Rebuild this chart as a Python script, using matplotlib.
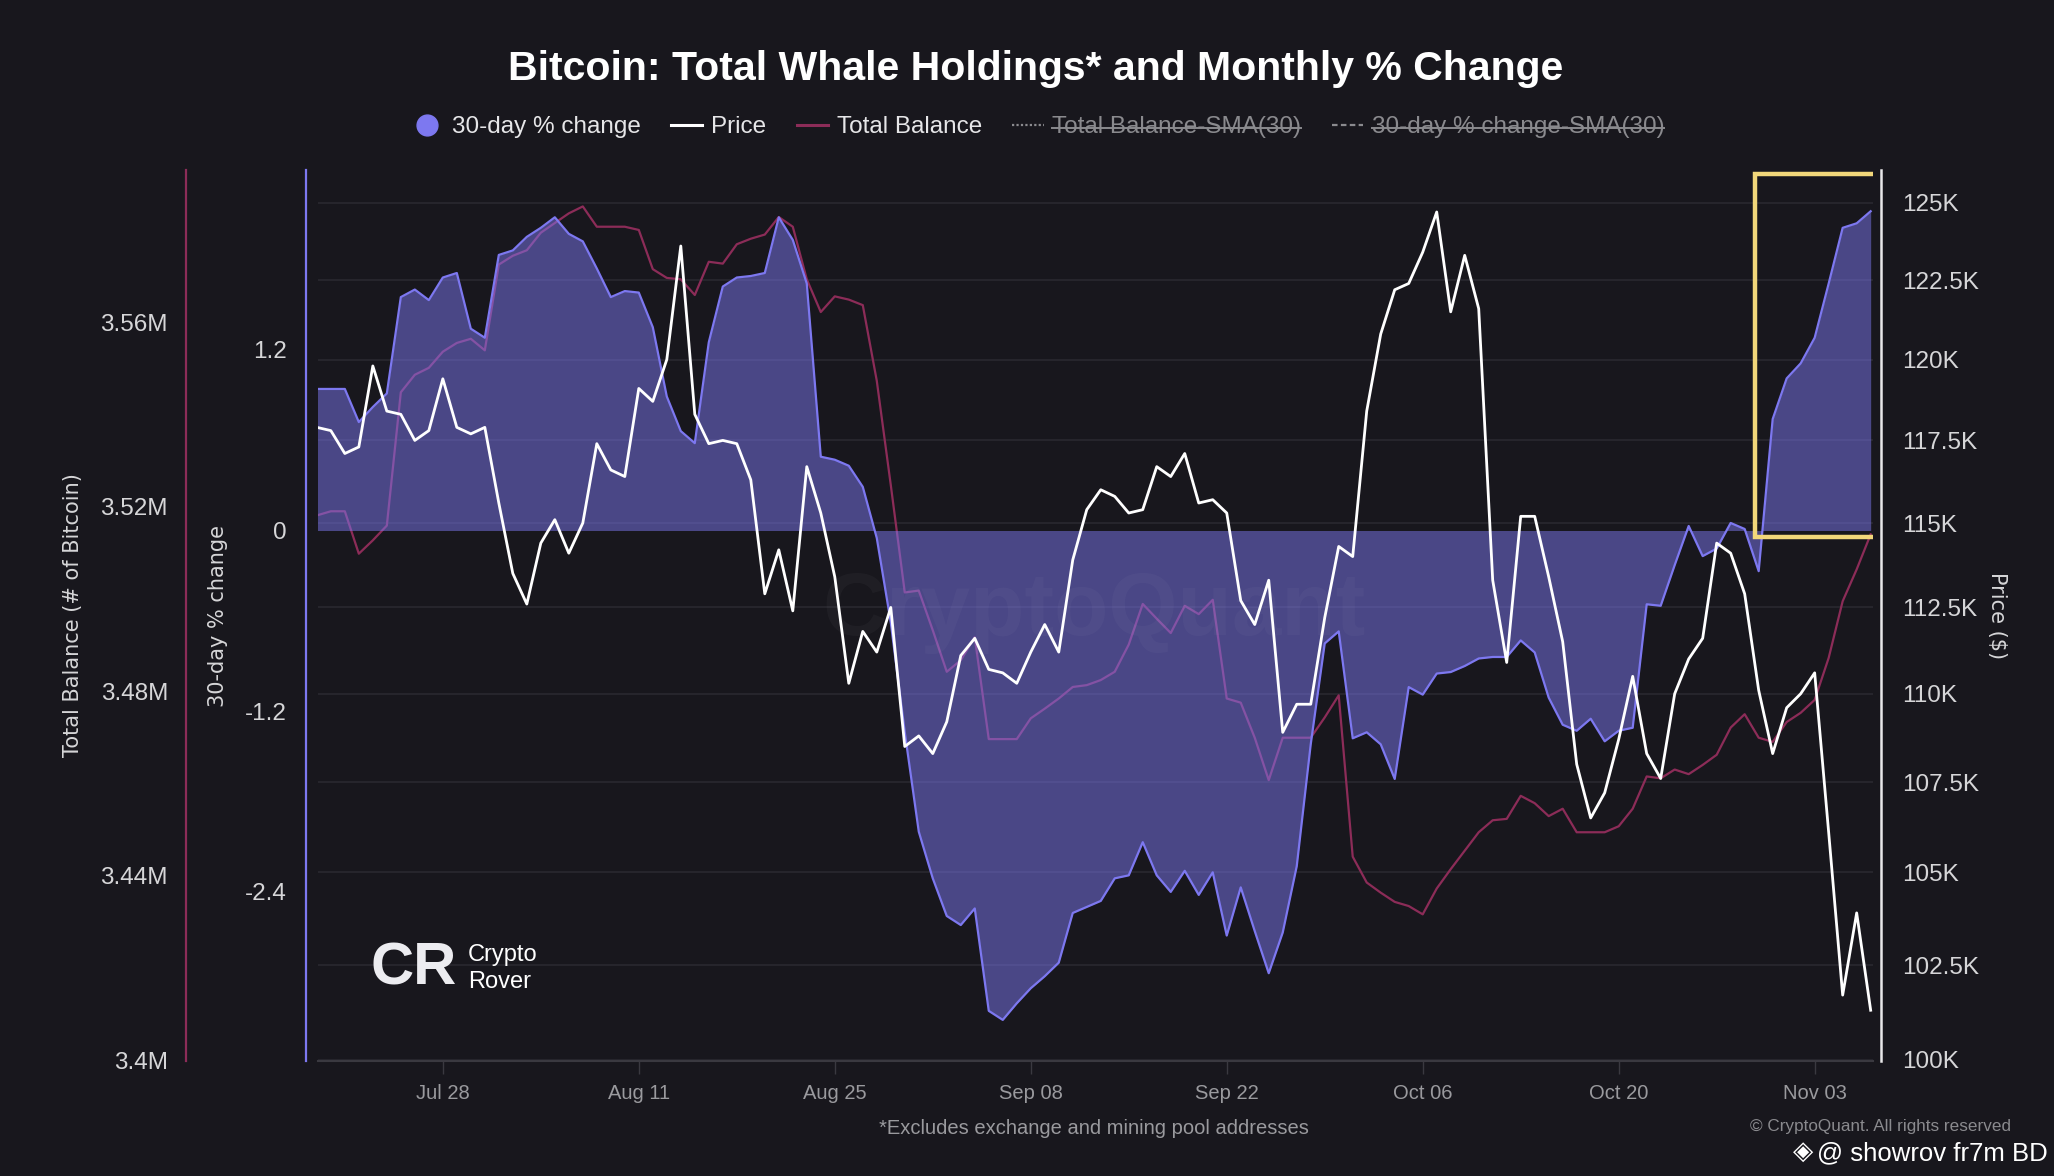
import pandas as pd
import matplotlib
matplotlib.use("Agg")
import matplotlib.pyplot as plt
import matplotlib.dates as mdates
import matplotlib.ticker as mticker
from matplotlib.lines import Line2D
from matplotlib.patches import Rectangle

plt.rcParams['font.family'] = ['Liberation Sans Narrow', 'Liberation Sans', 'DejaVu Sans']

# ======== data ========
dates = pd.date_range('2025-07-19', periods=112, freq='D')

pct_change = [0.94, 0.94, 0.94, 0.72, 0.82, 0.91, 1.55, 1.60, 1.53, 1.68,
              1.71, 1.34, 1.28, 1.83, 1.86, 1.95, 2.01, 2.08, 1.97, 1.92,
              1.74, 1.55, 1.59, 1.58, 1.35, 0.89, 0.66, 0.58, 1.25, 1.62,
              1.68, 1.69, 1.71, 2.08, 1.93, 1.64, 0.49, 0.47, 0.43, 0.29,
              -0.05, -0.61, -1.34, -2.00, -2.31, -2.56, -2.62, -2.51, -3.19, -3.25,
              -3.14, -3.04, -2.96, -2.87, -2.54, -2.50, -2.46, -2.31, -2.29, -2.07,
              -2.29, -2.40, -2.26, -2.42, -2.27, -2.69, -2.37, -2.66, -2.94, -2.67,
              -2.23, -1.42, -0.75, -0.67, -1.38, -1.34, -1.42, -1.65, -1.04, -1.09,
              -0.95, -0.94, -0.90, -0.85, -0.84, -0.84, -0.73, -0.81, -1.11, -1.29,
              -1.33, -1.25, -1.40, -1.33, -1.31, -0.49, -0.50, -0.23, 0.03, -0.17,
              -0.12, 0.05, 0.01, -0.27, 0.74, 1.01, 1.11, 1.28, 1.64, 2.01,
              2.04, 2.12]

price_k = [117.9, 117.8, 117.1, 117.3, 119.8, 118.4, 118.3, 117.5, 117.8, 119.4,
           117.9, 117.7, 117.9, 115.6, 113.5, 112.6, 114.4, 115.1, 114.1, 115.0,
           117.4, 116.6, 116.4, 119.1, 118.7, 120.0, 123.6, 118.3, 117.4, 117.5,
           117.4, 116.3, 112.9, 114.2, 112.4, 116.7, 115.3, 113.4, 110.3, 111.8,
           111.2, 112.5, 108.5, 108.8, 108.3, 109.2, 111.1, 111.6, 110.7, 110.6,
           110.3, 111.2, 112.0, 111.2, 113.9, 115.4, 116.0, 115.8, 115.3, 115.4,
           116.7, 116.4, 117.1, 115.6, 115.7, 115.3, 112.7, 112.0, 113.3, 108.9,
           109.7, 109.7, 112.2, 114.3, 114.0, 118.4, 120.8, 122.2, 122.4, 123.4,
           124.7, 121.5, 123.3, 121.6, 113.3, 110.9, 115.2, 115.2, 113.4, 111.5,
           108.0, 106.5, 107.2, 108.7, 110.5, 108.3, 107.6, 110.0, 111.0, 111.6,
           114.4, 114.1, 112.9, 110.1, 108.3, 109.6, 110.0, 110.6, 106.1, 101.7,
           103.9, 101.3]

balance_m = [3.5181, 3.5190, 3.5190, 3.5098, 3.5127, 3.5159, 3.5448, 3.5486, 3.5501, 3.5536,
             3.5555, 3.5564, 3.5539, 3.5725, 3.5744, 3.5756, 3.5794, 3.5815, 3.5836, 3.5851,
             3.5807, 3.5807, 3.5807, 3.5800, 3.5715, 3.5696, 3.5693, 3.5659, 3.5731, 3.5727,
             3.5769, 3.5781, 3.5790, 3.5828, 3.5807, 3.5693, 3.5622, 3.5656, 3.5649, 3.5637,
             3.5473, 3.5247, 3.5014, 3.5018, 3.4932, 3.4842, 3.4867, 3.4917, 3.4696, 3.4696,
             3.4696, 3.4741, 3.4762, 3.4784, 3.4809, 3.4813, 3.4824, 3.4842, 3.4901, 3.4989,
             3.4957, 3.4926, 3.4985, 3.4967, 3.4998, 3.4784, 3.4775, 3.4699, 3.4607, 3.4699,
             3.4699, 3.4699, 3.4743, 3.4791, 3.4441, 3.4385, 3.4363, 3.4343, 3.4334, 3.4316,
             3.4372, 3.4414, 3.4454, 3.4494, 3.4520, 3.4523, 3.4573, 3.4557, 3.4529, 3.4545,
             3.4494, 3.4494, 3.4494, 3.4507, 3.4545, 3.4615, 3.4611, 3.4630, 3.4620, 3.4640,
             3.4662, 3.4721, 3.4750, 3.4699, 3.4690, 3.4733, 3.4753, 3.4781, 3.4872, 3.4995,
             3.5064, 3.5140]

balance_ticks = [3.40, 3.44, 3.48, 3.52, 3.56]
balance_labels = ['3.4M', '3.44M', '3.48M', '3.52M', '3.56M']
pct_ticks = [-2.4, -1.2, 0, 1.2]
pct_labels = ['-2.4', '-1.2', '0', '1.2']
price_ticks = [100, 102.5, 105, 107.5, 110, 112.5, 115, 117.5, 120, 122.5, 125]
price_labels = ['100K', '102.5K', '105K', '107.5K', '110K', '112.5K', '115K',
                '117.5K', '120K', '122.5K', '125K']
date_ticks = pd.date_range('2025-07-28', '2025-11-03', freq='14D')

# yellow highlight box (the last rising stretch)
box_start, box_end = pd.Timestamp('2025-10-29 17:00'), pd.Timestamp('2025-11-07 10:00')
box_low, box_high = -0.04, 2.37

# ======== colours ========
BG = '#18171d'
PURPLE = '#7d78f0'
BAL = '#8c2c58'
GRID = '#2a2930'
TXT = '#d6d6d8'
GREY = '#9a9a9e'

W, H = 2054, 1176
fig = plt.figure(figsize=(W / 100, H / 100), dpi=100, facecolor=BG)

# base axes: background, price grid and the date axis
ax_grid = fig.add_axes([318 / W, 1 - 1061 / H, 1555 / W, 891 / H])
ax_grid.set_facecolor(BG)
ax_grid.set_yscale('log')
ax_grid.set_ylim(99.97, 126.07)
ax_grid.yaxis.set_major_locator(mticker.FixedLocator(price_ticks))
ax_grid.yaxis.set_minor_locator(mticker.NullLocator())
ax_grid.grid(axis='y', color=GRID, lw=1.2)
ax_grid.tick_params(axis='y', which='both', length=0, labelleft=False, labelright=False)

ax_bal = ax_grid.twinx()
ax_pct = ax_grid.twinx()
ax_price = ax_grid.twinx()

# balance line (bottom layer)
ax_bal.plot(dates, balance_m, color=BAL, lw=1.6, zorder=2)
ax_bal.set_ylim(3.3998, 3.593)
ax_bal.set_yticks(balance_ticks)
ax_bal.set_yticklabels(balance_labels)

# 30-day % change area
ax_pct.fill_between(dates, 0, pct_change, color=PURPLE, alpha=0.5, lw=0, zorder=2)
ax_pct.plot(dates, pct_change, color=PURPLE, lw=1.6, zorder=3)
ax_pct.set_ylim(-3.523, 2.394)
ax_pct.set_yticks(pct_ticks)
ax_pct.set_yticklabels(pct_labels)
ax_pct.add_patch(Rectangle((mdates.date2num(box_start), box_low),
                           mdates.date2num(box_end) - mdates.date2num(box_start),
                           box_high - box_low, fill=False, ec='#f2d77a', lw=3.2, zorder=5))

# price line (top)
ax_price.plot(dates, price_k, color='white', lw=2.0, zorder=4)
ax_price.set_yscale('log')
ax_price.set_ylim(99.97, 126.07)
ax_price.yaxis.set_major_locator(mticker.FixedLocator(price_ticks))
ax_price.yaxis.set_minor_locator(mticker.NullLocator())
ax_price.yaxis.set_major_formatter(mticker.FixedFormatter(price_labels))

ax_grid.set_xlim(dates[0] + pd.Timedelta(hours=2), dates[-1] + pd.Timedelta(hours=4))

# ======== axes styling ========
for a in (ax_grid, ax_bal, ax_pct, ax_price):
    for s in a.spines.values():
        s.set_visible(False)

ax_grid.spines['bottom'].set_visible(True)
ax_grid.spines['bottom'].set_color('#3a3940')
ax_grid.spines['bottom'].set_linewidth(1.5)
ax_grid.set_xticks(date_ticks)
ax_grid.xaxis.set_major_formatter(mdates.DateFormatter('%b %d'))
ax_grid.tick_params(axis='x', direction='out', length=9.5, width=1, color='#3a3940',
                    labelcolor=GREY, labelsize=14.5, pad=7)

ax_bal.yaxis.tick_left()
ax_bal.yaxis.set_label_position('left')
ax_bal.spines['left'].set_visible(True)
ax_bal.spines['left'].set_position(('outward', 95))
ax_bal.spines['left'].set_color(BAL)
ax_bal.spines['left'].set_linewidth(1.6)
ax_bal.tick_params(axis='y', length=0, pad=13, labelsize=17.5, labelcolor=TXT)

ax_pct.yaxis.tick_left()
ax_pct.yaxis.set_label_position('left')
ax_pct.spines['left'].set_visible(True)
ax_pct.spines['left'].set_position(('outward', 8.3))
ax_pct.spines['left'].set_color(PURPLE)
ax_pct.spines['left'].set_linewidth(1.6)
ax_pct.tick_params(axis='y', length=0, pad=14, labelsize=17.5, labelcolor=TXT)

ax_price.spines['right'].set_visible(True)
ax_price.spines['right'].set_position(('outward', 5.8))
ax_price.spines['right'].set_color('#e8e8ea')
ax_price.spines['right'].set_linewidth(1.8)
ax_price.tick_params(axis='y', which='both', length=0, pad=15, labelsize=17.5, labelcolor=TXT)

lab_font = dict(family='DejaVu Sans', fontsize=15, color=TXT)
ax_bal.set_ylabel('Total Balance (# of Bitcoin)', **lab_font)
ax_bal.yaxis.set_label_coords(-0.151, 0.5)
ax_pct.set_ylabel('30-day % change', **lab_font)
ax_pct.yaxis.set_label_coords(-0.058, 0.5)
ax_price.set_ylabel('Price ($)', rotation=-90, va='center', **lab_font)
ax_price.yaxis.set_label_coords(1.080, 0.5)

# ======== title, legend, notes ========
fig.text(1036 / W, 1 - 69 / H, 'Bitcoin: Total Whale Holdings* and Monthly % Change',
         ha='center', va='center', fontsize=29.5, fontweight='bold', color='white')

handles = [
    Line2D([], [], ls='none', marker='o', ms=15, mfc=PURPLE, mec=PURPLE),
    Line2D([], [], color='white', lw=2.2),
    Line2D([], [], color=BAL, lw=2.2),
    Line2D([], [], color='#8a8a8e', lw=1.6, ls=(0, (1, 1))),
    Line2D([], [], color='#8a8a8e', lw=1.6, ls=(0, (2.5, 1.5))),
]
names = ['30-day % change', 'Price', 'Total Balance',
         'Total Balance-SMA(30)', '30-day % change-SMA(30)']
leg = fig.legend(handles, names, loc='center', bbox_to_anchor=(1038 / W, 1 - 127 / H),
                 ncol=5, frameon=False, fontsize=17.5, handlelength=1.3,
                 handletextpad=0.35, columnspacing=1.25)
for i, t in enumerate(leg.get_texts()):
    t.set_color('#e6e6e8' if i < 3 else '#8a8a8e')

fig.text(1094 / W, 1 - 1128 / H, '*Excludes exchange and mining pool addresses',
         ha='center', va='center', fontsize=14.5, color=GREY)
fig.text(2011 / W, 1 - 1127 / H, '\u00a9 CryptoQuant. All rights reserved',
         ha='right', va='center', fontsize=12.3, color='#8a8a8e')
fig.text(1803 / W, 1 - 1152 / H, '\u25c8', family='DejaVu Sans',
         ha='center', va='center', fontsize=19, color='white')
fig.text(2048 / W, 1 - 1153 / H, '@ showrov fr7m BD',
         ha='right', va='center', fontsize=18.5, color='white')

# logo and watermark
fig.text(414 / W, 1 - 969 / H, 'CR', ha='center', va='center', fontsize=43,
         fontweight='bold', color='#ececf0')
fig.text(468 / W, 1 - 955 / H, 'Crypto', ha='left', va='center', fontsize=17, color='white')
fig.text(468 / W, 1 - 982 / H, 'Rover', ha='left', va='center', fontsize=17, color='white')
fig.text(1094 / W, 1 - 612 / H, 'CryptoQuant', ha='center', va='center', fontsize=64,
         fontweight='bold', color='white', alpha=0.03)

# strike-through on the hidden legend entries
fig.canvas.draw()
renderer = fig.canvas.get_renderer()
inv = fig.transFigure.inverted()
for t in leg.get_texts()[3:]:
    bb = t.get_window_extent(renderer)
    ymid = (bb.y0 + bb.y1) / 2 - 1
    (x0, y0), (x1, y1) = inv.transform([(bb.x0, ymid), (bb.x1, ymid)])
    fig.add_artist(Line2D([x0, x1], [y0, y1], color='#8a8a8e', lw=1.4))

fig.savefig('out.png', dpi=100, facecolor=BG)
